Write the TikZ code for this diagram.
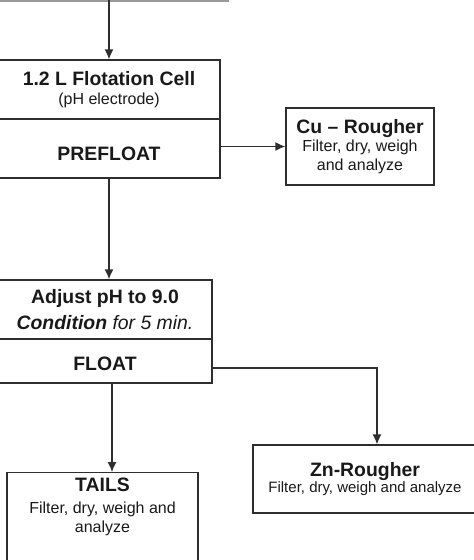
\documentclass[tikz,border=0pt]{standalone}
\usepackage{fontspec}
\setmainfont{Liberation Sans}
\usepackage{tikz}
\usetikzlibrary{arrows.meta}

\newcommand{\headfont}{\fontsize{19.4}{21}\selectfont\bfseries}
\newcommand{\bodyfont}{\fontsize{16}{18.5}\selectfont}

\begin{document}
\begin{tikzpicture}[
			x=1pt, y=-1pt,
			every node/.style={draw=black!82, line width=1.3pt, inner sep=0pt, align=center, text=black!90, font=\bodyfont},
			flow/.style={draw=black!82, line width=1.3pt, -{Latex[length=10pt, width=9pt]}},
			feedline/.style={draw=black!40, line width=3.4pt}
			]
			\useasboundingbox (0,0) rectangle (474,560);
			
			% incoming stream from the box above
			\coordinate (inW) at (0,0);
			\coordinate (inE) at (229,0);
			\coordinate (feed) at (109,0);
			\draw[feedline] (inW) -- (inE);
			
			% flotation cell, prefloat stage
			\node[minimum width=222pt, minimum height=59pt] (cell) at (109,89.5)
				{{\headfont 1.2 L Flotation Cell}\\ (pH electrode)};
			\node[minimum width=222pt, minimum height=59pt, text height=24.6pt, text depth=0pt] (pre) at (109,148.5)
				{\headfont PREFLOAT};
			\node[minimum width=148pt, minimum height=77pt] (cu) at (360,146.5)
				{{\headfont Cu – Rougher}\\ Filter, dry, weigh\\ and analyze};
			
			% float stage
			\node[minimum width=214pt, minimum height=59pt] (adj) at (105,309.5)
				{{\headfont Adjust pH to 9.0}\\[7pt] {\headfont\itshape Condition \mdseries for 5 min.}};
			\node[minimum width=214pt, minimum height=44pt, text height=19.9pt, text depth=0pt] (float) at (105,361)
				{\headfont FLOAT};
			\node[minimum width=224pt, minimum height=68pt, font=\fontsize{15}{16.5}\selectfont] (zn) at (365,479)
				{{\headfont Zn-Rougher}\\ Filter, dry, weigh and analyze};
			\node[anchor=north, minimum width=191pt, inner ysep=5pt, text depth=110pt] (tails) at (102.5,472)
				{{\headfont TAILS}\\[4pt] Filter, dry, weigh and\\ analyze};
			
			% connectors
			\draw[flow] (feed) -- (cell.north);
			\draw[flow] (pre.east |- cu.west) -- (cu.west);
			\draw[flow] (pre.south) -- (pre.south |- adj.north);
			\draw[flow] ([xshift=7pt]float.south) -- ([xshift=7pt]float.south |- tails.north);
			\draw[flow] ([yshift=-7pt]float.east) -| ([xshift=12pt]zn.north);
		\end{tikzpicture}
\end{document}
